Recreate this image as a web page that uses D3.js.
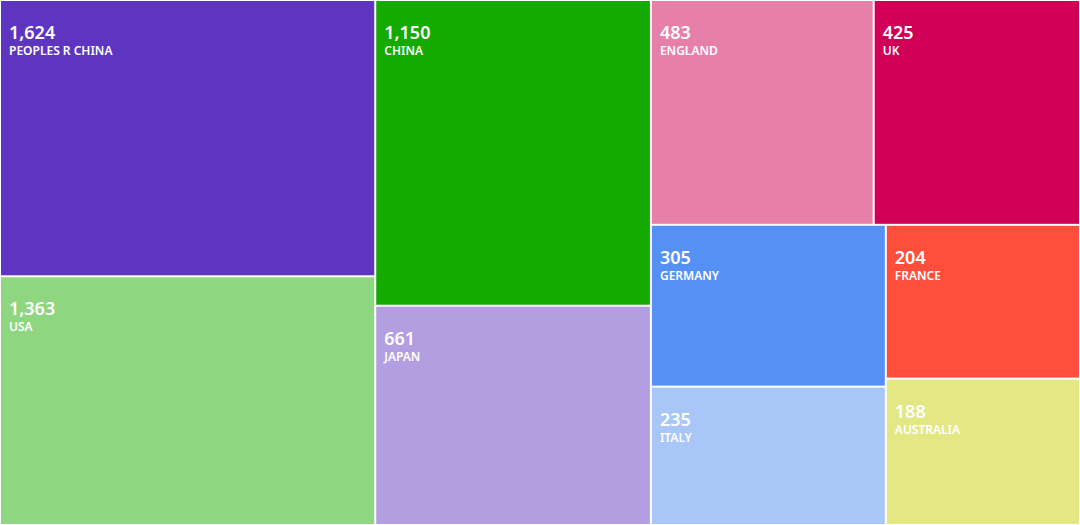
<!DOCTYPE html>
<html><head><meta charset="utf-8">
<script src="https://cdn.jsdelivr.net/npm/d3@7"></script>
<style>body{margin:0;background:#fff}text{font-family:"Noto Sans",sans-serif;fill:#fff;font-weight:600}</style>
</head><body><svg width="1080" height="525"></svg>
<script>
var countries = ["PEOPLES R CHINA","USA","CHINA","JAPAN","ENGLAND","UK","GERMANY","ITALY","FRANCE","AUSTRALIA"];
var counts = [1624,1363,1150,661,483,425,305,235,204,188];
var colors = ["#5e35c0","#8fd680","#14aa00","#b39ee2","#e77fab","#cf0056","#5591f5","#a8c7f8","#ff4f3c","#e3e885"];
// block path of each country in the layout
var groups = ["a","a","b","b","c/top","c/top","c/bottom/1","c/bottom/1","c/bottom/2","c/bottom/2"];

var svg = d3.select("svg");
var rows = [{id:"root"}];
var seen = {};
groups.forEach(function(g){
  var parts = g.split("/");
  for (var k=1;k<=parts.length;k++){
    var id = "root/"+parts.slice(0,k).join("/");
    if(!seen[id]){seen[id]=1;rows.push({id:id});}
  }
});
countries.forEach(function(c,i){
  rows.push({id:"root/"+groups[i]+"/"+c,name:c,value:counts[i],color:colors[i]});
});
// tile areas are damped so the small countries stay readable
var root = d3.stratify().path(function(d){return d.id;})(rows)
  .sum(function(d){return d.value ? Math.pow(d.value,0.6) : 0;});
d3.treemap().tile(d3.treemapSliceDice).size([1080,525])(root);

var fmt = d3.format(",");
var cell = svg.selectAll("g").data(root.leaves()).enter().append("g")
  .attr("transform", function(d){return "translate("+d.x0+","+d.y0+")";});
cell.append("rect")
  .attr("x",1).attr("y",1)
  .attr("width", function(d){return Math.max(0,d.x1-d.x0-2);})
  .attr("height", function(d){return Math.max(0,d.y1-d.y0-2);})
  .style("fill", function(d){return d.data.color;});
cell.append("text").attr("x",9).attr("y",39).style("font-size","18px")
  .text(function(d){return fmt(d.data.value);});
cell.append("text").attr("x",9).attr("y",55).style("font-size","12px")
  .text(function(d){return d.data.name;});
</script></body></html>
